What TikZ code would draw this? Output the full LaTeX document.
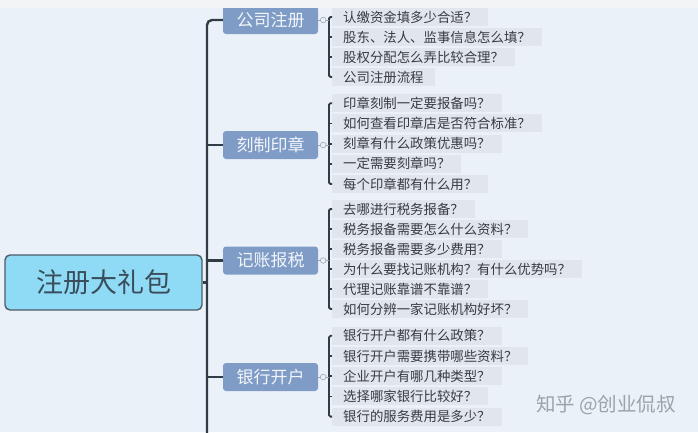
\documentclass[tikz,border=0pt]{standalone}
\usepackage{fontspec}
\newfontfamily\cjk{Noto Sans CJK SC}
\usetikzlibrary{positioning}
\definecolor{bgblue}{HTML}{EBF1F8}
\definecolor{topstrip}{HTML}{F3F4F5}
\definecolor{rootfill}{HTML}{8FDBF5}
\definecolor{rootline}{HTML}{4E5C69}
\definecolor{roottext}{HTML}{3A4D5C}
\definecolor{branchfill}{HTML}{7F9CC7}
\definecolor{leaffill}{HTML}{E1E6EC}
\definecolor{leaftext}{HTML}{383C42}
\definecolor{trunkcol}{HTML}{323C47}
\definecolor{knobcol}{HTML}{9AA6B2}
\definecolor{markgray}{HTML}{9CA2AA}

\begin{document}
\begin{tikzpicture}[x=1pt,y=-1pt,
    root/.style={draw=rootline,line width=1.4pt,fill=rootfill,rounded corners=5pt,
      minimum width=197pt,minimum height=55pt,font=\cjk\fontsize{27}{30}\selectfont,text=roottext},
    branch/.style={fill=branchfill,rounded corners=3pt,minimum width=95pt,minimum height=28pt,
      font=\cjk\fontsize{17}{20}\selectfont,text=white!90!branchfill},
    leaf/.style={anchor=west,fill=leaffill,inner xsep=11pt,inner ysep=0pt,minimum height=18pt,
      font=\cjk\fontsize{13.4}{16}\selectfont,text=leaftext},
    trunk/.style={draw=trunkcol,line width=2.4pt,rounded corners=5pt},
    brace/.style={draw=trunkcol,line width=1.8pt,rounded corners=1.5pt},
    knob/.style={draw=knobcol,fill=bgblue,line width=0.6pt}]
    \useasboundingbox (0,0) rectangle (698,432);
    \fill[bgblue] (0,0) rectangle (698,432);

    \node[branch] (reg) at (270.5,20) {公司注册};
    \node[branch] (seal) at (270.5,145) {刻制印章};
    \node[branch] (tax) at (270.5,260.5) {记账报税};
    \node[branch] (bank) at (270.5,377) {银行开户};
    \node[root] (root) at (103.5,282.5) {注册大礼包};
    \coordinate (trunkend) at (207,440);

    \draw[trunk] (reg.west) -| (trunkend);
    \foreach \b in {seal,tax,bank}
      \draw[trunk] (\b.west) -- (\b.west -| trunkend);
    \draw[trunk,rounded corners=0pt] (root.east) -- (root.east -| trunkend);

    \foreach \t [count=\i] in {认缴资金填多少合适？,股东、法人、监事信息怎么填？,股权分配怎么弄比较合理？,公司注册流程}
      \node[leaf] (reg\i) at (332,{20*\i-3}) {\t};
    \foreach \t [count=\i] in {印章刻制一定要报备吗？,如何查看印章店是否符合标准？,刻章有什么政策优惠吗？,一定需要刻章吗？,每个印章都有什么用？}
      \node[leaf] (seal\i) at (332,{83+20.2*\i}) {\t};
    \foreach \t [count=\i] in {去哪进行税务报备？,税务报备需要怎么什么资料？,税务报备需要多少费用？,为什么要找记账机构？有什么优势吗？,代理记账靠谱不靠谱？,如何分辨一家记账机构好坏？}
      \node[leaf] (tax\i) at (332,{189+20*\i}) {\t};
    \foreach \t [count=\i] in {银行开户都有什么政策？,银行开户需要携带哪些资料？,企业开户有哪几种类型？,选择哪家银行比较好？,银行的服务费用是多少？}
      \node[leaf] (bank\i) at (332,{315.6+20.2*\i}) {\t};

    \draw[brace] (reg1.west) -- ++(-3,0) |- (reg4.west);
    \draw[brace] (seal1.west) -- ++(-3,0) |- (seal5.west);
    \draw[brace] (tax1.west) -- ++(-3,0) |- (tax6.west);
    \draw[brace] (bank1.west) -- ++(-3,0) |- (bank5.west);
    \foreach \i in {2,3}
      \draw[brace] (reg\i.west) -- ++(-3,0);
    \foreach \i in {2,3,4} {
      \draw[brace] (seal\i.west) -- ++(-3,0);
      \draw[brace] (bank\i.west) -- ++(-3,0);
    }
    \foreach \i in {2,...,5}
      \draw[brace] (tax\i.west) -- ++(-3,0);

    \foreach \b in {reg,seal,tax,bank} {
      \draw[knobcol,line width=0.6pt] (\b.east) -- ([xshift=-3pt]\b.east -| \b1.west);
      \draw[knob] ([xshift=5pt]\b.east) circle (2.8pt);
    }

    \node[font=\cjk\fontsize{19.5}{22}\selectfont,text=markgray] (mark) at (606,405) {知乎 @创业侃叔};
    \fill[topstrip] (0,0) rectangle (698,8);
  \end{tikzpicture}
\end{document}
